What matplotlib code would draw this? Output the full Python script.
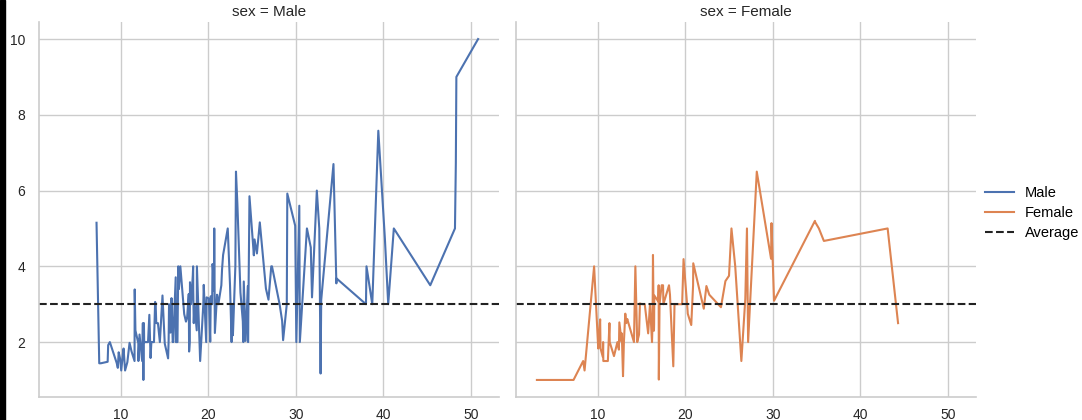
import matplotlib
matplotlib.use("Agg")
import matplotlib.pyplot as plt
from matplotlib.lines import Line2D
import pandas as pd

total_bill = [16.99,10.34,21.01,23.68,24.59,25.29,8.77,26.88,15.04,14.78,10.27,35.26,15.42,18.43,14.83,21.58,10.33,16.29,16.97,20.65,
17.92,20.29,15.77,39.42,19.82,17.81,13.37,12.69,21.7,19.65,9.55,18.35,15.06,20.69,17.78,24.06,16.31,16.93,18.69,31.27,
16.04,17.46,13.94,9.68,30.4,18.29,22.23,32.4,28.55,18.04,12.54,10.29,34.81,9.94,25.56,19.49,38.01,26.41,11.24,48.27,
20.29,13.81,11.02,18.29,17.59,20.08,16.45,3.07,20.23,15.01,12.02,17.07,26.86,25.28,14.73,10.51,17.92,27.2,22.76,17.29,
19.44,16.66,10.07,32.68,15.98,34.83,13.03,18.28,24.71,21.16,28.97,22.49,5.75,16.32,22.75,40.17,27.28,12.03,21.01,12.46,
11.35,15.38,44.3,22.42,20.92,15.36,20.49,25.21,18.24,14.31,14.0,7.25,38.07,23.95,25.71,17.31,29.93,10.65,12.43,24.08,
11.69,13.42,14.26,15.95,12.48,29.8,8.52,14.52,11.38,22.82,19.08,20.27,11.17,12.26,18.26,8.51,10.33,14.15,16.0,13.16,
17.47,34.3,41.19,27.05,16.43,8.35,18.64,11.87,9.78,7.51,14.07,13.13,17.26,24.55,19.77,29.85,48.17,25.0,13.39,16.49,
21.5,12.66,16.21,13.81,17.51,24.52,20.76,31.71,10.59,10.63,50.81,15.81,7.25,31.85,16.82,32.9,17.89,14.48,9.6,34.63,
34.65,23.33,45.35,23.17,40.55,20.69,20.9,30.46,18.15,23.1,15.69,19.81,28.44,15.48,16.58,7.56,10.34,43.11,13.0,13.51,
18.71,12.74,13.0,16.4,20.53,16.47,26.59,38.73,24.27,12.76,30.06,25.89,48.33,13.27,28.17,12.9,28.15,11.59,7.74,30.14,
12.16,13.42,8.58,15.98,13.42,16.27,10.09,20.45,13.28,22.12,24.01,15.69,11.61,10.77,15.53,10.07,12.6,32.83,35.83,29.03,
27.18,22.67,17.82,18.78]

tip = [1.01,1.66,3.5,3.31,3.61,4.71,2.0,3.12,1.96,3.23,1.71,5.0,1.57,3.0,3.02,3.92,1.67,3.71,3.5,3.35,
4.08,2.75,2.23,7.58,3.18,2.34,2.0,2.0,4.3,3.0,1.45,2.5,3.0,2.45,3.27,3.6,2.0,3.07,2.31,5.0,
2.24,2.54,3.06,1.32,5.6,3.0,5.0,6.0,2.05,3.0,2.5,2.6,5.2,1.56,4.34,3.51,3.0,1.5,1.76,6.73,
3.21,2.0,1.98,3.76,2.64,3.15,2.47,1.0,2.01,2.09,1.97,3.0,3.14,5.0,2.2,1.25,3.08,4.0,3.0,2.71,
3.0,3.4,1.83,5.0,2.03,5.17,2.0,4.0,5.85,3.0,3.0,3.5,1.0,4.3,3.25,4.73,4.0,1.5,3.0,1.5,
2.5,3.0,2.5,3.48,4.08,1.64,4.06,4.29,3.76,4.0,3.0,1.0,4.0,2.55,4.0,3.5,5.07,1.5,1.8,2.92,
2.31,1.68,2.5,2.0,2.52,4.2,1.48,2.0,2.0,2.18,1.5,2.83,1.5,2.0,3.25,1.25,2.0,2.0,2.0,2.75,
3.5,6.7,5.0,5.0,2.3,1.5,1.36,1.63,1.73,2.0,2.5,2.0,2.74,2.0,2.0,5.14,5.0,3.75,2.61,2.0,
3.5,2.5,2.0,2.0,3.0,3.48,2.24,4.5,1.61,2.0,10.0,3.16,5.15,3.18,4.0,3.11,2.0,2.0,4.0,3.55,
3.68,5.65,3.5,6.5,3.0,5.0,3.5,2.0,3.5,4.0,1.5,4.19,2.56,2.02,4.0,1.44,2.0,5.0,2.0,2.0,
4.0,2.01,2.0,2.5,4.0,3.23,3.41,3.0,2.03,2.23,2.0,5.16,9.0,2.5,6.5,1.1,3.0,1.5,1.44,3.09,
2.2,3.48,1.92,3.0,1.58,2.5,2.0,3.0,2.72,2.88,2.0,3.0,3.39,1.47,3.0,1.25,1.0,1.17,4.67,5.92,
2.0,2.0,1.75,3.0]

sex = ["Female","Male","Male","Male","Female","Male","Male","Male","Male","Male","Male","Female","Male","Male","Female","Male","Female","Male","Female","Male",
"Male","Female","Female","Male","Male","Male","Male","Male","Male","Female","Male","Male","Female","Female","Male","Male","Male","Female","Male","Male",
"Male","Male","Male","Male","Male","Male","Male","Male","Male","Male","Male","Female","Female","Male","Male","Male","Male","Female","Male","Male",
"Male","Male","Male","Male","Male","Male","Female","Female","Male","Male","Male","Female","Female","Female","Female","Male","Male","Male","Male","Male",
"Male","Male","Female","Male","Male","Female","Male","Male","Male","Male","Male","Male","Female","Female","Female","Male","Male","Male","Male","Male",
"Female","Female","Female","Female","Female","Male","Male","Male","Male","Female","Male","Female","Male","Male","Female","Female","Male","Female","Female","Female",
"Male","Female","Male","Male","Female","Female","Male","Female","Female","Male","Male","Female","Female","Female","Female","Female","Female","Female","Male","Female",
"Female","Male","Male","Female","Female","Female","Female","Female","Male","Male","Male","Male","Male","Male","Male","Female","Male","Female","Female","Male",
"Male","Male","Female","Male","Female","Male","Male","Male","Female","Female","Male","Male","Male","Male","Male","Male","Male","Male","Female","Male",
"Male","Male","Male","Male","Male","Male","Female","Male","Female","Male","Male","Female","Male","Male","Male","Male","Male","Female","Female","Male",
"Male","Female","Female","Female","Male","Female","Male","Male","Male","Female","Male","Male","Male","Female","Female","Female","Male","Male","Male","Female",
"Male","Female","Male","Female","Male","Female","Female","Male","Male","Female","Male","Male","Male","Male","Male","Male","Male","Male","Female","Male",
"Female","Male","Male","Female"]

panels = ["Male", "Female"]
colors = {"Male": "#4C72B0", "Female": "#DD8452"}
average_tip = 3.0

plt.rcParams['font.family'] = ['Liberation Sans', 'DejaVu Sans']
df = pd.DataFrame({"total_bill": total_bill, "tip": tip, "sex": sex})

fig = plt.figure(figsize=(10.82, 4.2), dpi=100)
W, H = 1082, 420
ax_w, ax_h = 460, 375
bottom = (H - 397) / H
lefts = [39, 516]
axes = []
for i, s in enumerate(panels):
    ax = fig.add_axes([lefts[i] / W, bottom, ax_w / W, ax_h / H],
                      sharex=axes[0] if axes else None, sharey=axes[0] if axes else None)
    axes.append(ax)
    sub = df[df["sex"] == s].groupby("total_bill")["tip"].mean().sort_index()
    ax.plot(sub.index.values, sub.values, color=colors[s], lw=1.5)
    ax.axhline(average_tip, color="#222222", ls="--", lw=1.5)
    ax.set_title(f"sex = {s}", fontsize=11, color="#262626", pad=4)
    ax.grid(True, color="#cccccc", lw=1.0)
    ax.set_axisbelow(True)
    for sp in ["top", "right"]:
        ax.spines[sp].set_visible(False)
    for sp in ["left", "bottom"]:
        ax.spines[sp].set_color("#cccccc")
        ax.spines[sp].set_linewidth(1.2)
    ax.tick_params(length=0, labelsize=10, labelcolor="#262626")
    ax.tick_params(axis="x", pad=8)
    ax.tick_params(axis="y", pad=10)
    ax.set_xticks([10, 20, 30, 40, 50])
    ax.set_yticks([2, 4, 6, 8, 10])

axes[1].tick_params(labelleft=False)
xmin, xmax = min(total_bill), max(total_bill)
xm = (xmax - xmin) * 0.05
axes[0].set_xlim(xmin - xm, xmax + xm)
ymin, ymax = min(tip), max(tip)
ym = (ymax - ymin) * 0.05
axes[0].set_ylim(ymin - ym, ymax + ym)

handles = [Line2D([], [], color=colors["Male"], lw=1.5),
           Line2D([], [], color=colors["Female"], lw=1.5),
           Line2D([], [], color="#222222", ls="--", lw=1.5)]
fig.legend(handles, ["Male", "Female", "Average"], loc="center left",
           bbox_to_anchor=(972 / W, (H - 213) / H), frameon=False, fontsize=10.5,
           handlelength=2.0, handletextpad=0.7, labelspacing=0.4)

# black strip at left edge (from the screenshot)
fig.patches.append(plt.Rectangle((0, 0), 5 / W, 1, transform=fig.transFigure,
                                 color="black", zorder=10))

fig.savefig("out.png", dpi=100, facecolor="white")
